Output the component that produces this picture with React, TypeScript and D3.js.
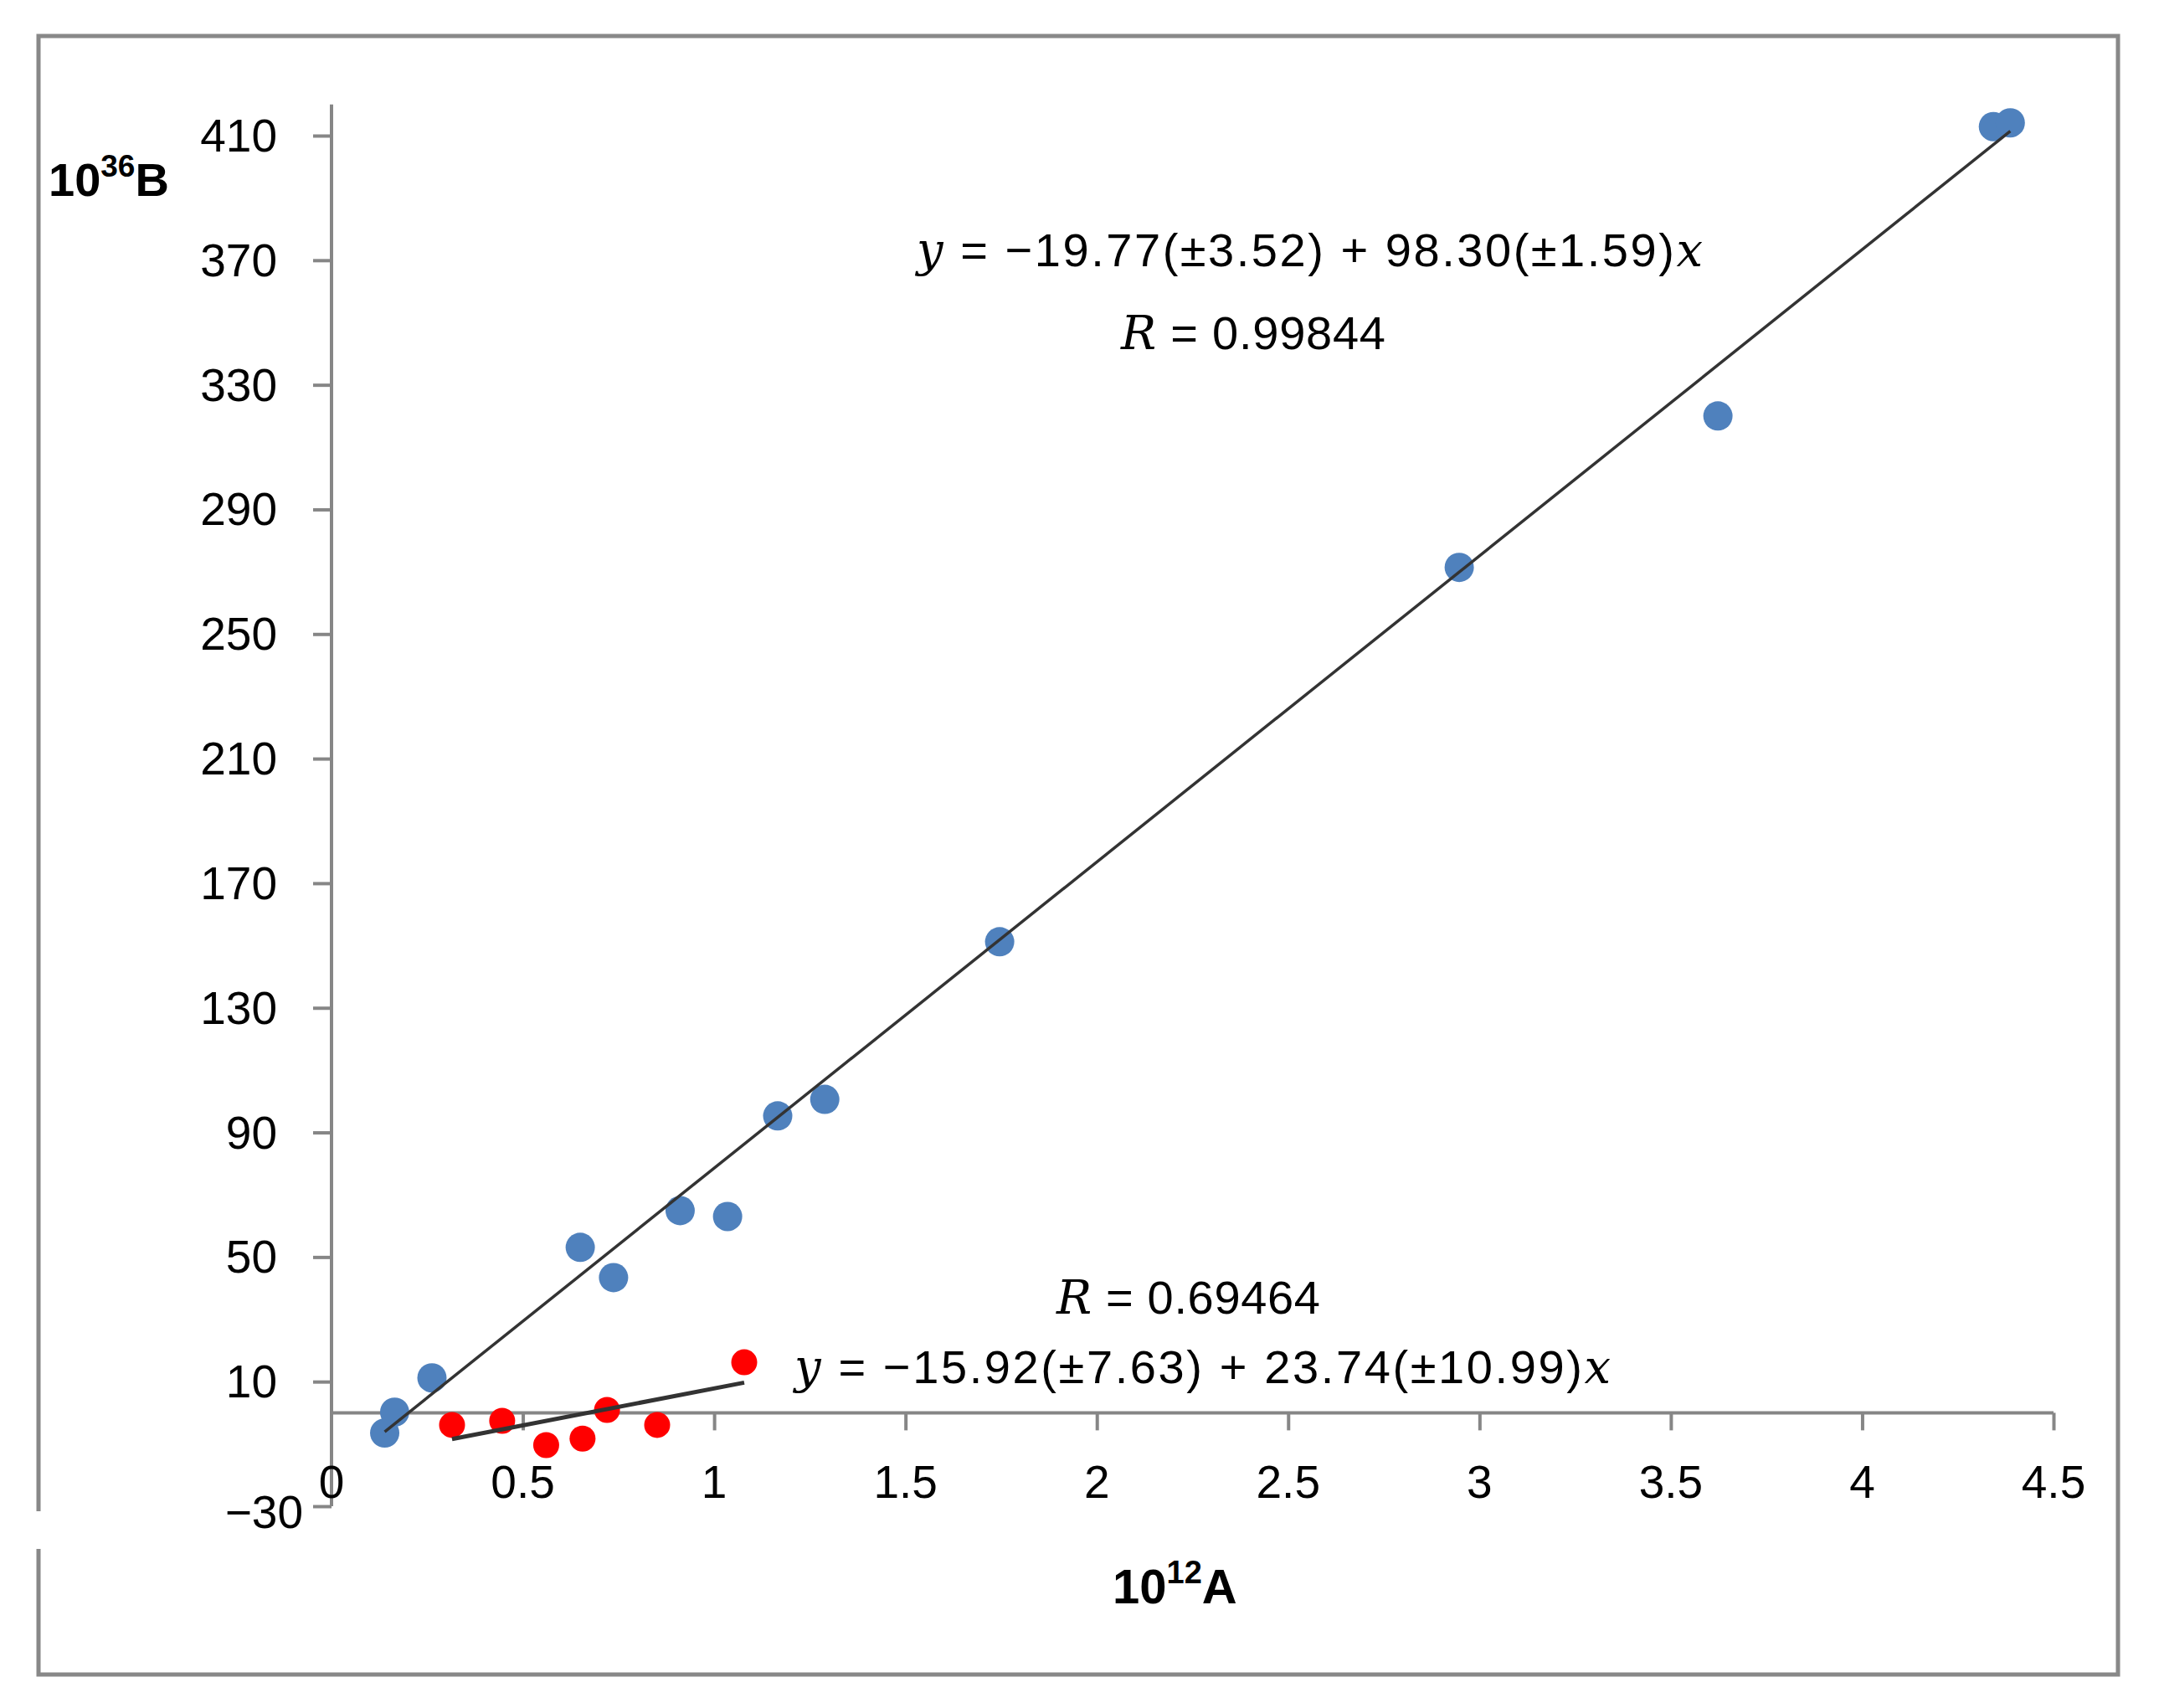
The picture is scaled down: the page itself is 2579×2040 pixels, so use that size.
import * as d3 from "d3";
import { useEffect, useRef } from "react";

// series (A in 1e12 units, B in 1e36 units)
const blueA = [0.139, 0.165, 0.2625, 0.65, 0.737, 0.911, 1.035, 1.166, 1.289, 1.746, 2.947, 3.623, 4.343, 4.387];
const blueB = [-6.5, 0.2, 11.2, 53.1, 43.4, 64.9, 63.0, 95.3, 100.6, 151.2, 271.4, 320.0, 412.9, 414.1];
const redA = [0.315, 0.446, 0.561, 0.656, 0.72, 0.851, 1.0785];
const redB = [-3.9, -2.6, -10.4, -8.3, 0.9, -3.9, 16.2];

// fitted lines: [intercept, slope]
const blueFit = [-19.77, 98.3];
const redFit = [-15.92, 23.74];

const xTicks = [0, 0.5, 1, 1.5, 2, 2.5, 3, 3.5, 4, 4.5];
const yTicks = [-30, 10, 50, 90, 130, 170, 210, 250, 290, 330, 370, 410];

const FONT = "'Liberation Sans', Arial, sans-serif";
const MATH = "'DejaVu Serif', serif";

export default function App() {
    const svgRef = useRef<SVGSVGElement | null>(null);

    useEffect(() => {
        if (!svgRef.current) return;
        const svg = d3.select(svgRef.current);
        svg.selectAll("*").remove();

        const totalW = 2579;
        const totalH = 2040;
        svg.attr("width", totalW).attr("height", totalH);

        svg.append("rect").attr("width", totalW).attr("height", totalH).attr("fill", "#fff");

        const x = d3.scaleLinear().domain([0, 4.5]).range([396, 2453]);
        const y = d3.scaleLinear().domain([-30, 410]).range([1799, 162]);

        // outer frame, with the small gap on the left edge
        const frame = svg.append("g").attr("stroke", "#888").attr("stroke-width", 5).attr("fill", "none");
        frame.append("path").attr("d", "M46,1805 L46,43 L2530,43 L2530,2000 L46,2000 L46,1850");

        const axisColor = "#868686";

        // y axis
        const yAxis = svg
            .append("g")
            .attr("transform", `translate(${x(0)},0)`)
            .call(d3.axisLeft(y).tickValues(yTicks).tickSize(22).tickFormat(() => ""));
        yAxis.select(".domain").attr("d", `M0,${y(-30)}V${y(420)}`);
        yAxis.selectAll("path, line").attr("stroke", axisColor).attr("stroke-width", 4);

        // x axis sitting on y = 0
        const xAxis = svg
            .append("g")
            .attr("transform", `translate(0,${y(0)})`)
            .call(d3.axisBottom(x).tickValues(xTicks.slice(1)).tickSize(21).tickFormat(() => ""));
        xAxis.select(".domain").attr("d", `M${x(0)},0H${x(4.5)}`);
        xAxis.selectAll("path, line").attr("stroke", axisColor).attr("stroke-width", 4);

        // tick labels
        svg.append("g")
            .selectAll("text")
            .data(yTicks)
            .join("text")
            .attr("x", (d) => (d < 0 ? 362 : 331))
            .attr("y", (d) => (d < 0 ? y(d) + 7 : y(d)))
            .attr("text-anchor", "end")
            .attr("dominant-baseline", "central")
            .attr("font-family", FONT)
            .attr("font-size", 55)
            .attr("fill", "#000")
            .text((d) => (d < 0 ? `\u2212${-d}` : `${d}`));

        svg.append("g")
            .selectAll("text")
            .data(xTicks)
            .join("text")
            .attr("x", (d) => x(d))
            .attr("y", 1770)
            .attr("text-anchor", "middle")
            .attr("dominant-baseline", "central")
            .attr("font-family", FONT)
            .attr("font-size", 55)
            .attr("fill", "#000")
            .text((d) => `${d}`);

        // axis titles
        const yTitle = svg
            .append("text")
            .attr("x", 58)
            .attr("y", 234)
            .attr("font-family", FONT)
            .attr("font-weight", "bold")
            .attr("font-size", 56);
        yTitle.append("tspan").text("10");
        yTitle.append("tspan").attr("font-size", 37).attr("dy", -23).text("36");
        yTitle.append("tspan").attr("dy", 23).text("B");

        const xTitle = svg
            .append("text")
            .attr("x", 1329)
            .attr("y", 1915)
            .attr("font-family", FONT)
            .attr("font-weight", "bold")
            .attr("font-size", 58);
        xTitle.append("tspan").text("10");
        xTitle.append("tspan").attr("font-size", 38).attr("dy", -24).text("12");
        xTitle.append("tspan").attr("dy", 24).text("A");

        // points
        svg.append("g")
            .selectAll("circle")
            .data(blueA)
            .join("circle")
            .attr("cx", (d) => x(d))
            .attr("cy", (d, i) => y(blueB[i]))
            .attr("r", 17.5)
            .attr("fill", "#4f81bd");

        svg.append("g")
            .selectAll("circle")
            .data(redA)
            .join("circle")
            .attr("cx", (d) => x(d))
            .attr("cy", (d, i) => y(redB[i]))
            .attr("r", 15.5)
            .attr("fill", "#ff0000");

        // fitted lines over the data range
        const fitLine = (xs: number[], fit: number[], w: number) => {
            const ext = d3.extent(xs) as [number, number];
            const line = d3
                .line<number>()
                .x((d) => x(d))
                .y((d) => y(fit[0] + fit[1] * d));
            svg.append("path")
                .datum(ext)
                .attr("fill", "none")
                .attr("stroke", "#333")
                .attr("stroke-width", w)
                .attr("d", line);
        };
        fitLine(blueA, blueFit, 3.5);
        fitLine(redA, redFit, 5);

        // equations
        const eq = (
            px: number,
            py: number,
            len: number,
            parts: { t: string; it?: boolean }[]
        ) => {
            const t = svg
                .append("text")
                .attr("x", px)
                .attr("y", py)
                .attr("font-family", FONT)
                .attr("font-size", 56)
                .attr("fill", "#000")
                .attr("textLength", len)
                .attr("lengthAdjust", "spacing")
                .attr("xml:space", "preserve");
            parts.forEach((p) => {
                const s = t.append("tspan").text(p.t);
                if (p.it) s.attr("font-family", MATH).attr("font-style", "italic");
            });
        };

        eq(1095, 318, 939, [
            { t: "y", it: true },
            { t: " = \u221219.77(\u00b13.52) + 98.30(\u00b11.59)" },
            { t: "x", it: true },
        ]);
        eq(1339, 417, 316, [{ t: "R", it: true }, { t: " = 0.99844" }]);
        eq(1262, 1569, 315, [{ t: "R", it: true }, { t: " = 0.69464" }]);
        eq(949, 1652, 975, [
            { t: "y", it: true },
            { t: " = \u221215.92(\u00b17.63) + 23.74(\u00b110.99)" },
            { t: "x", it: true },
        ]);
    }, []);

    return (
        <div style={{ position: "absolute", left: 0, top: 0 }}>
            <svg ref={svgRef} style={{ display: "block" }} />
        </div>
    );
}
